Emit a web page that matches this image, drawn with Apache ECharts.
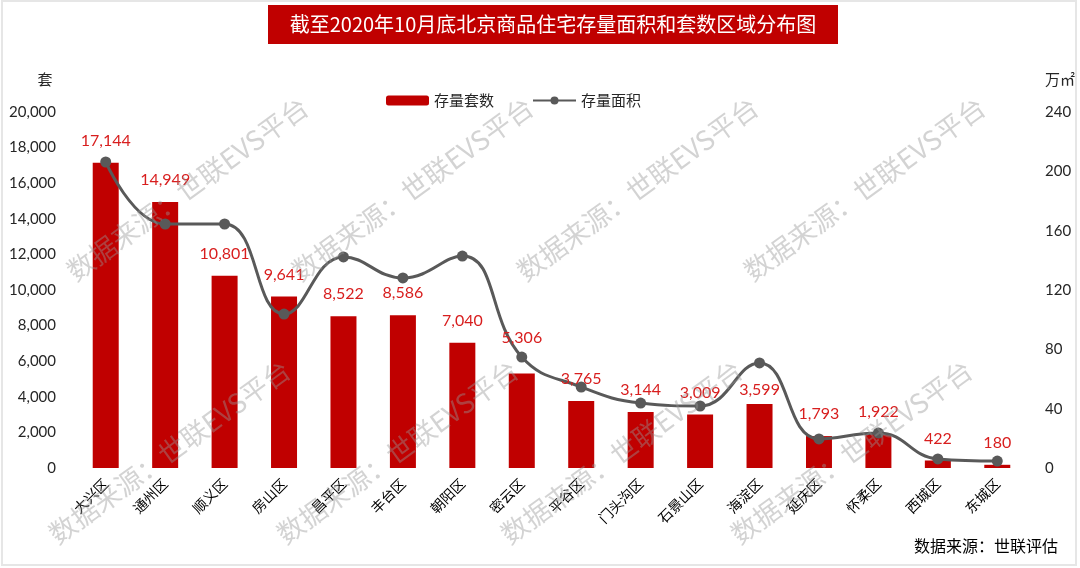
<!DOCTYPE html>
<html>
<head>
<meta charset="utf-8">
<script src="https://cdn.jsdelivr.net/npm/echarts@6/dist/echarts.min.js"></script>
<style>
  html, body { margin: 0; padding: 0; background: #fff; }
  #chart { width: 1080px; height: 568px; }
</style>
</head>
<body>
<div id="chart"></div>
<script>
// 区域
const districts = ['大兴区', '通州区', '顺义区', '房山区', '昌平区', '丰台区', '朝阳区', '密云区',
  '平谷区', '门头沟区', '石景山区', '海淀区', '延庆区', '怀柔区', '西城区', '东城区']
// 存量套数（套）
const stockUnits = [17144, 14949, 10801, 9641, 8522, 8586, 7040, 5306, 3765, 3144, 3009, 3599, 1793, 1922, 422, 180]
// 存量面积（万㎡）
const stockArea = [206.3, 164.5, 164.5, 103.8, 142.3, 128.1, 142.9, 74.8, 54.6, 43.8, 41.8, 70.8, 19.6, 23.6, 6.1, 4.7]
// 坐标轴刻度
const unitAxis = { min: 0, max: 20000, interval: 2000 }
const areaAxis = { min: 0, max: 240, interval: 40 }

const RED = '#C00000'
const GRAY = '#595959'
const cjk = '"Noto Sans CJK SC", "Noto Sans", sans-serif'
const num = 'Lato, "Noto Sans CJK SC", sans-serif'

const watermarkText = '数据来源：世联EVS平台'
const watermarkSpots = [
  [78, 285], [303, 285], [528, 285], [755, 285],
  [60, 548], [288, 548], [512, 548], [742, 548],
]

// 个别数据标签在原图中离柱子更远或更近（标签离柱顶的距离）
const labelGap = { 7: 28, 11: 6 }

const chart = echarts.init(document.getElementById('chart'))

const graphics = [
  {
    type: 'rect',
    shape: { x: 2, y: 1, width: 1074, height: 564 },
    style: { fill: 'none', stroke: '#e6e6e6', lineWidth: 2 },
    silent: true,
  },
  {
    type: 'rect',
    shape: { x: 268, y: 5, width: 570, height: 39 },
    style: { fill: RED },
  },
  {
    type: 'text',
    x: 553, y: 24.5,
    style: {
      text: '截至2020年10月底北京商品住宅存量面积和套数区域分布图',
      fill: '#fff', font: '20px ' + cjk, textAlign: 'center', textVerticalAlign: 'middle',
    },
  },
  {
    type: 'text',
    x: 45, y: 79,
    style: { text: '套', fill: '#262626', font: '15px ' + cjk, textAlign: 'center', textVerticalAlign: 'middle' },
  },
  {
    type: 'text',
    x: 1045, y: 79,
    style: { text: '万㎡', fill: '#262626', font: '15px ' + cjk, textAlign: 'left', textVerticalAlign: 'middle' },
  },
  {
    type: 'text',
    x: 1058, y: 546,
    style: { text: '数据来源：世联评估', fill: '#000', font: '16px ' + cjk, textAlign: 'right', textVerticalAlign: 'middle' },
  },
]

watermarkSpots.forEach(([x, y]) => {
  graphics.push({
    type: 'text',
    x, y,
    rotation: 36 * Math.PI / 180,
    silent: true,
    z: 100,
    style: {
      text: watermarkText,
      fill: 'rgba(150,150,150,0.42)',
      font: '27px ' + cjk,
      textAlign: 'left',
      textVerticalAlign: 'bottom',
    },
  })
})

// 标签作为单独的透明柱系列绘制，方便逐个调整距离
const labelSeries = stockUnits.map((v, i) => ({
  type: 'bar',
  barGap: '-100%',
  barWidth: 26,
  silent: true,
  z: 6,
  data: stockUnits.map((u, j) => (j === i ? u : '-')),
  itemStyle: { color: 'transparent' },
  label: {
    show: true,
    position: 'top',
    distance: labelGap[i] !== undefined ? labelGap[i] : 14,
    color: '#D81E1E',
    fontSize: 16,
    fontFamily: num,
    formatter: (p) => p.value.toLocaleString('en-US'),
  },
}))

const option = {
  animation: false,
  backgroundColor: '#fff',
  textStyle: { fontFamily: cjk },
  legend: {
    left: 381,
    top: 88,
    itemWidth: 43,
    itemHeight: 10,
    itemGap: 38,
    textStyle: { fontSize: 15, color: '#262626', fontFamily: cjk },
    data: ['存量套数', '存量面积'],
  },
  grid: {
    left: 76,
    right: 53,
    top: 112,
    bottom: 100,
  },
  xAxis: {
    type: 'category',
    data: districts,
    axisLine: { show: false },
    axisTick: { show: false },
    axisLabel: {
      rotate: 45,
      interval: 0,
      margin: 13,
      fontSize: 14,
      color: '#000',
      fontFamily: cjk,
    },
  },
  yAxis: [
    {
      type: 'value',
      ...unitAxis,
      splitLine: { show: false },
      axisLine: { show: false },
      axisTick: { show: false },
      axisLabel: {
        margin: 20,
        fontSize: 15,
        color: '#262626',
        fontFamily: num,
        formatter: (v) => v.toLocaleString('en-US'),
      },
    },
    {
      type: 'value',
      ...areaAxis,
      position: 'right',
      splitLine: { show: false },
      axisLine: { show: false },
      axisTick: { show: false },
      axisLabel: {
        margin: 18,
        fontSize: 15,
        color: '#262626',
        fontFamily: num,
      },
    },
  ],
  series: [
    {
      name: '存量套数',
      type: 'bar',
      data: stockUnits,
      barWidth: 26,
      itemStyle: { color: RED },
    },
    {
      name: '存量面积',
      type: 'line',
      yAxisIndex: 1,
      data: stockArea,
      smooth: 0.45,
      symbol: 'circle',
      symbolSize: 11,
      itemStyle: { color: GRAY },
      lineStyle: { color: GRAY, width: 3 },
      z: 5,
    },
    ...labelSeries,
  ],
  graphic: graphics,
}

chart.setOption(option)
</script>
</body>
</html>
